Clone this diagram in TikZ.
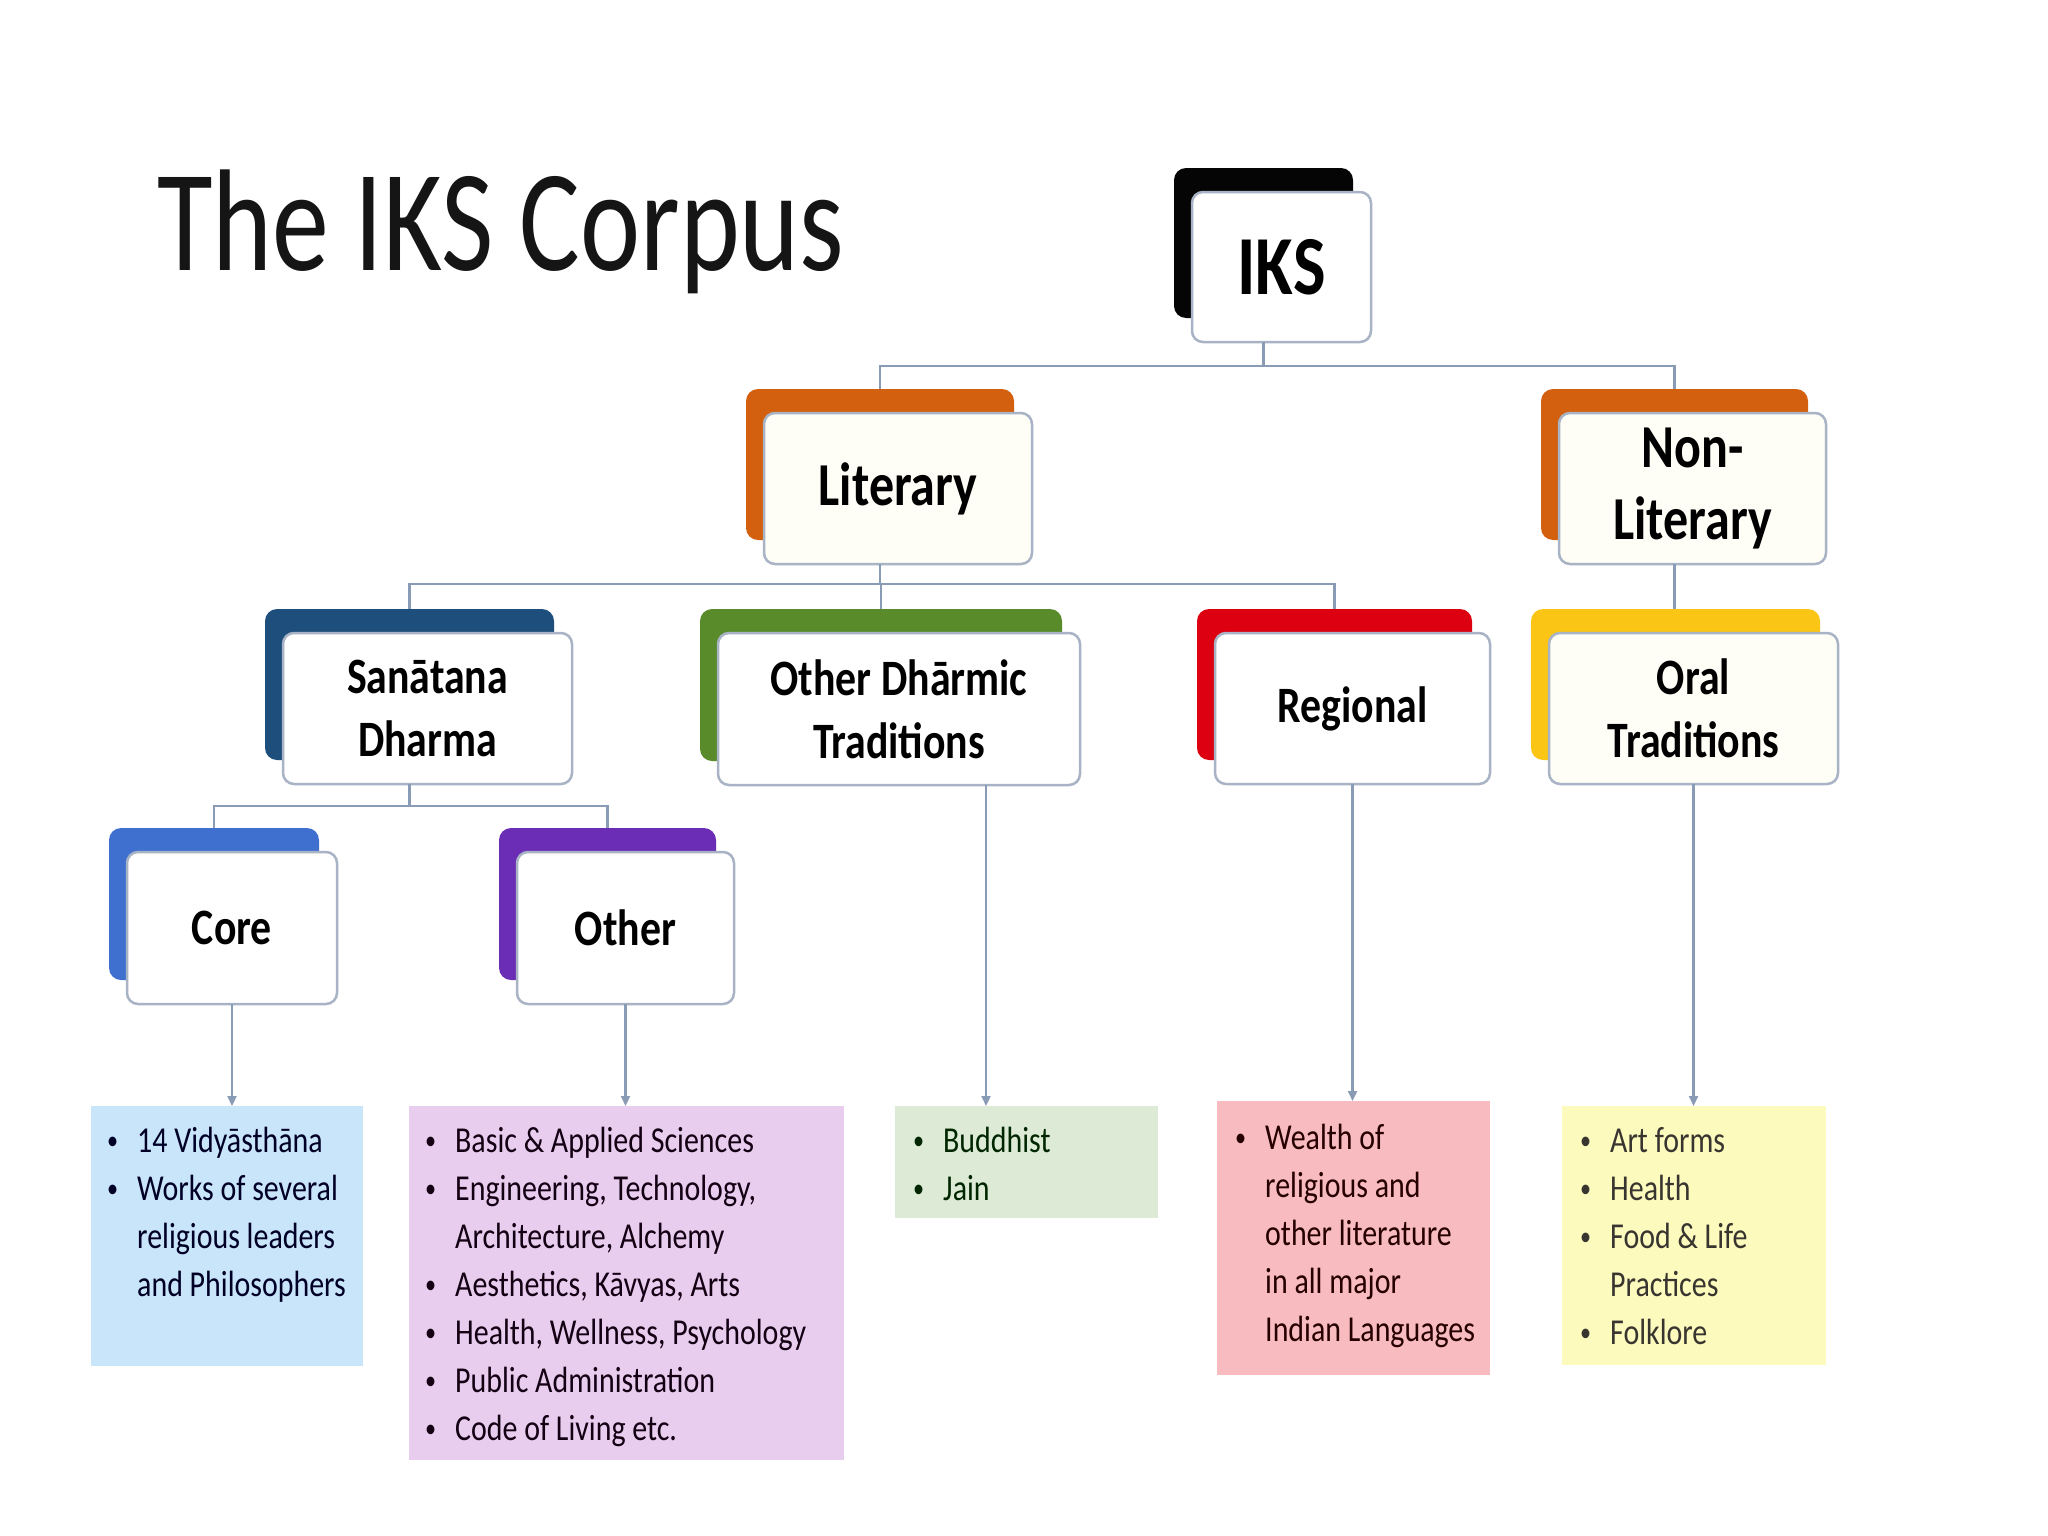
\documentclass[tikz,border=0pt]{standalone}
\usepackage{fontspec}
\setmainfont{Carlito}[FakeStretch=0.82]
\newfontfamily\titlefont{Carlito}[FakeStretch=0.785]
\usetikzlibrary{arrows.meta,calc}
\definecolor{conncol}{HTML}{8A9BB5}
\definecolor{framecol}{HTML}{A9B3C6}
\definecolor{cIKS}{HTML}{050505}
\definecolor{cLit}{HTML}{D2600F}
\definecolor{cSan}{HTML}{1E4F7C}
\definecolor{cOD}{HTML}{5A8B2B}
\definecolor{cReg}{HTML}{DC0010}
\definecolor{cOral}{HTML}{FAC514}
\definecolor{cCore}{HTML}{3F70CF}
\definecolor{cOth}{HTML}{6B2DB5}
\definecolor{cream}{HTML}{FFFEF6}
\definecolor{fCore}{HTML}{C9E5F9}
\definecolor{fOth}{HTML}{E8CDEF}
\definecolor{fBud}{HTML}{DDEAD6}
\definecolor{fReg}{HTML}{F8BBBF}
\definecolor{fOral}{HTML}{FDFABD}
\definecolor{titlecol}{HTML}{151515}
\newcommand\li[1]{\makebox[32pt][l]{\hspace*{2pt}\raisebox{2.5pt}{\fontsize{27}{27}\selectfont •}}#1}
\newcommand\lc[1]{\hspace*{32pt}#1}
\newcommand\pairbox[9]{%
  \node[backbox, fill=#6, minimum width=#4pt, minimum height=#5pt] (#1-b) at (#2-18,#3-24) {};
  \node[frontbox, fill=#8, minimum width=#4pt, minimum height=#5pt, #7] (#1) at (#2,#3) {#9};
}
\tikzset{
  backbox/.style={draw=none, rounded corners=12pt, inner sep=0pt, outer sep=0pt},
  frontbox/.style={draw=framecol, line width=2.5pt, rounded corners=11pt, inner sep=0pt, outer sep=0pt, align=center, text=black},
  fA/.style={font=\bfseries\fontsize{84}{100}\selectfont},
  fB/.style={font=\bfseries\fontsize{61}{72}\selectfont},
  fC/.style={font=\bfseries\fontsize{51}{63}\selectfont},
  conn/.style={draw=conncol, line width=2.2pt},
  arr/.style={conn, -{Triangle[length=10pt,width=9pt]}},
  listbox/.style={draw=none, inner sep=0pt, outer sep=0pt, anchor=north west},
  listtext/.style={inner sep=0pt, anchor=base west, font=\fontsize{36.5}{48}\selectfont},
}
\begin{document}
\begin{tikzpicture}[x=1pt,y=-1pt]
\useasboundingbox[fill=white] (0,0) rectangle (2048,1536);

\node[anchor=base west, inner sep=0pt, font=\titlefont\fontsize{145}{170}\selectfont, text=titlecol] (title) at (157,270) {The IKS Corpus};

\pairbox{iks}{1281.5}{267}{179}{150}{cIKS}{fA}{white}{IKS}
\pairbox{lit}{898}{488.5}{268}{151}{cLit}{fB}{cream}{Literary}
\pairbox{non}{1692.5}{488.5}{267}{151}{cLit}{fB}{cream}{Non-\\Literary}
\pairbox{san}{427.5}{708.5}{289}{151}{cSan}{fC}{white}{Sanātana\\Dharma}
\pairbox{od}{899}{709}{362}{152}{cOD}{fC}{white}{Other Dhārmic\\Traditions}
\pairbox{reg}{1352.5}{708.5}{275}{151}{cReg}{fC}{white}{Regional}
\pairbox{oral}{1693.5}{708.5}{289}{151}{cOral}{fC}{cream}{Oral\\Traditions}
\pairbox{core}{232}{928}{210}{152}{cCore}{fC}{white}{Core}
\pairbox{oth}{625.5}{928}{217}{152}{cOth}{fC}{white}{Other}

% connectors
\draw[conn] (iks-b.south |- iks.south) -- ++(0,24) coordinate (j1);
\draw[conn] (lit-b.north) |- (j1) -| (non-b.north);
\draw[conn] (lit-b.south |- lit.south) -- ++(0,20) coordinate (j2);
\draw[conn] (san-b.north) |- (j2) -| (reg-b.north);
\draw[conn] (od-b.north) -- (od-b.north |- j2);
\draw[conn] (non-b.south |- non.south) -- (non-b.south |- oral-b.north);
\draw[conn] (san-b.south |- san.south) -- ++(0,22) coordinate (j3);
\draw[conn] (core-b.north) |- (j3) -| (oth-b.north);

% list boxes
\node[listbox, fill=fCore, minimum width=272pt, minimum height=260pt] (coreL) at (91,1106) {};
\node[listbox, fill=fOth, minimum width=435pt, minimum height=354pt] (othL) at (409,1106) {};
\node[listbox, fill=fBud, minimum width=263pt, minimum height=112pt] (budL) at (895,1106) {};
\node[listbox, fill=fReg, minimum width=273pt, minimum height=274pt] (regL) at (1217,1101) {};
\node[listbox, fill=fOral, minimum width=264pt, minimum height=259pt] (oralL) at (1562,1106) {};

% arrows
\draw[arr] (core.south) -- (core.south |- coreL.north);
\draw[arr] (oth.south) -- (oth.south |- othL.north);
\draw[arr] ([xshift=87pt]od.south) -- ([xshift=87pt]od.south |- budL.north);
\draw[arr] (reg.south) -- (reg.south |- regL.north);
\draw[arr] (oral.south) -- (oral.south |- oralL.north);

% list texts
\node[listtext, text=black!85!blue] (coreT) at ([xshift=14pt,yshift=-46pt]coreL.north west) {\begin{tabular}[t]{@{}l@{}}
\li{14 Vidyāsthāna}\\ \li{Works of several}\\ \lc{religious leaders}\\ \lc{and Philosophers}\end{tabular}};
\node[listtext, text=black!85!violet] (othT) at ([xshift=14pt,yshift=-46pt]othL.north west) {\begin{tabular}[t]{@{}l@{}}
\li{Basic \& Applied Sciences}\\ \li{Engineering, Technology,}\\ \lc{Architecture, Alchemy}\\ \li{Aesthetics, Kāvyas, Arts}\\ \li{Health, Wellness, Psychology}\\ \li{Public Administration}\\ \li{Code of Living etc.}\end{tabular}};
\node[listtext, text=black!85!green] (budT) at ([xshift=16pt,yshift=-46pt]budL.north west) {\begin{tabular}[t]{@{}l@{}}
\li{Buddhist}\\ \li{Jain}\end{tabular}};
\node[listtext, text=black!85!red] (regT) at ([xshift=16pt,yshift=-48pt]regL.north west) {\begin{tabular}[t]{@{}l@{}}
\li{Wealth of}\\ \lc{religious and}\\ \lc{other literature}\\ \lc{in all major}\\ \lc{Indian Languages}\end{tabular}};
\node[listtext, text=black!90!yellow] (oralT) at ([xshift=16pt,yshift=-46pt]oralL.north west) {\begin{tabular}[t]{@{}l@{}}
\li{Art forms}\\ \li{Health}\\ \li{Food \& Life}\\ \lc{Practices}\\ \li{Folklore}\end{tabular}};
\end{tikzpicture}
\end{document}
